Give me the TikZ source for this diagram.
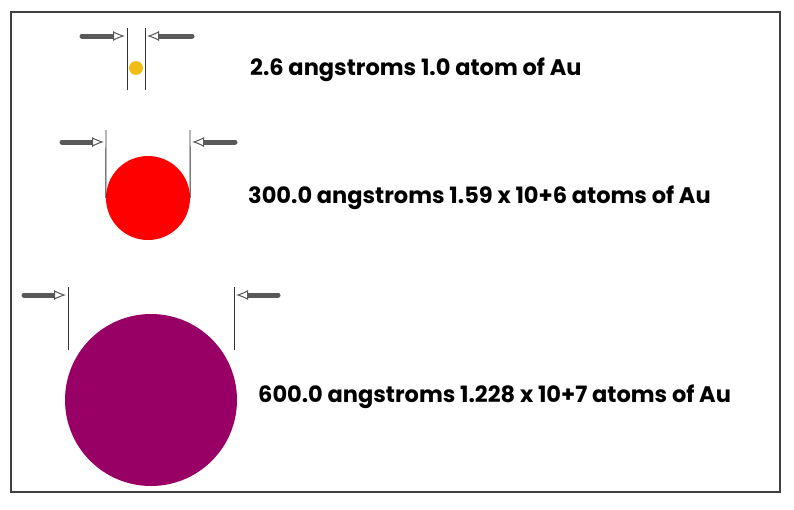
\documentclass[tikz,border=0pt]{standalone}
\usepackage{fontspec}
\setmainfont{Poppins}
\usetikzlibrary{arrows.meta}
\definecolor{goldyellow}{RGB}{240,190,20}
\definecolor{plum}{RGB}{153,0,102}
\tikzset{
  gauge/.style={line width=5pt, gray!70!black, line cap=round,
    -{Latex[open,fill=white,length=12pt,width=10pt,line width=1pt]}},
  rim/.style={line width=0.9pt, black!80},
  label/.style={anchor=west, inner sep=0pt, font=\fontsize{22.5}{26}\selectfont\bfseries}
}
\begin{document}
\begin{tikzpicture}[x=1pt,y=-1pt]

    % Fix the page
    \useasboundingbox (0,0) rectangle (794,509);

    % Draw the frame
    \draw[line width=1.5pt, black!75] (11,12) rectangle (780,492);

    % Draw the particles
    \node[circle, fill=goldyellow, inner sep=0pt, minimum size=14pt] (small) at (136,68) {};
    \node[circle, fill=red, inner sep=0pt, minimum size=84pt] (medium) at (148,198) {};
    \node[circle, fill=plum, inner sep=0pt, minimum size=172pt] (large) at (151,400) {};

    % Draw the size marks
    \coordinate (s1) at (127,28); \coordinate (s2) at (127,90);
    \coordinate (s3) at (145,28); \coordinate (s4) at (145,90);
    \draw[rim] (s1) -- (s2);
    \draw[rim] (s3) -- (s4);
    \coordinate (m1) at (106,130); \coordinate (m3) at (190,130);
    \draw[rim] (m1) -- (medium.west);
    \draw[rim] (m3) -- (medium.east);
    \coordinate (l1) at (68,287); \coordinate (l2) at (68,350);
    \coordinate (l3) at (234,287); \coordinate (l4) at (234,350);
    \draw[rim] (l1) -- (l2);
    \draw[rim] (l3) -- (l4);

    % Draw the arrows
    \coordinate (a1) at (82,36); \coordinate (a2) at (125,36);
    \coordinate (a3) at (192,36); \coordinate (a4) at (147,36);
    \draw[gauge] (a1) -- (a2);
    \draw[gauge] (a3) -- (a4);
    \coordinate (b1) at (62,142); \coordinate (b2) at (104,142);
    \coordinate (b3) at (235,142); \coordinate (b4) at (192,142);
    \draw[gauge] (b1) -- (b2);
    \draw[gauge] (b3) -- (b4);
    \coordinate (c1) at (24,295); \coordinate (c2) at (66,295);
    \coordinate (c3) at (278,295); \coordinate (c4) at (236,295);
    \draw[gauge] (c1) -- (c2);
    \draw[gauge] (c3) -- (c4);

    % Write the sizes
    \node[label] (t1) at (250,70) {2.6 angstroms 1.0 atom of Au};
    \node[label] (t2) at (248,198) {300.0 angstroms 1.59 x 10+6 atoms of Au};
    \node[label] (t3) at (258,397) {600.0 angstroms 1.228 x 10+7 atoms of Au};

\end{tikzpicture}
\end{document}
